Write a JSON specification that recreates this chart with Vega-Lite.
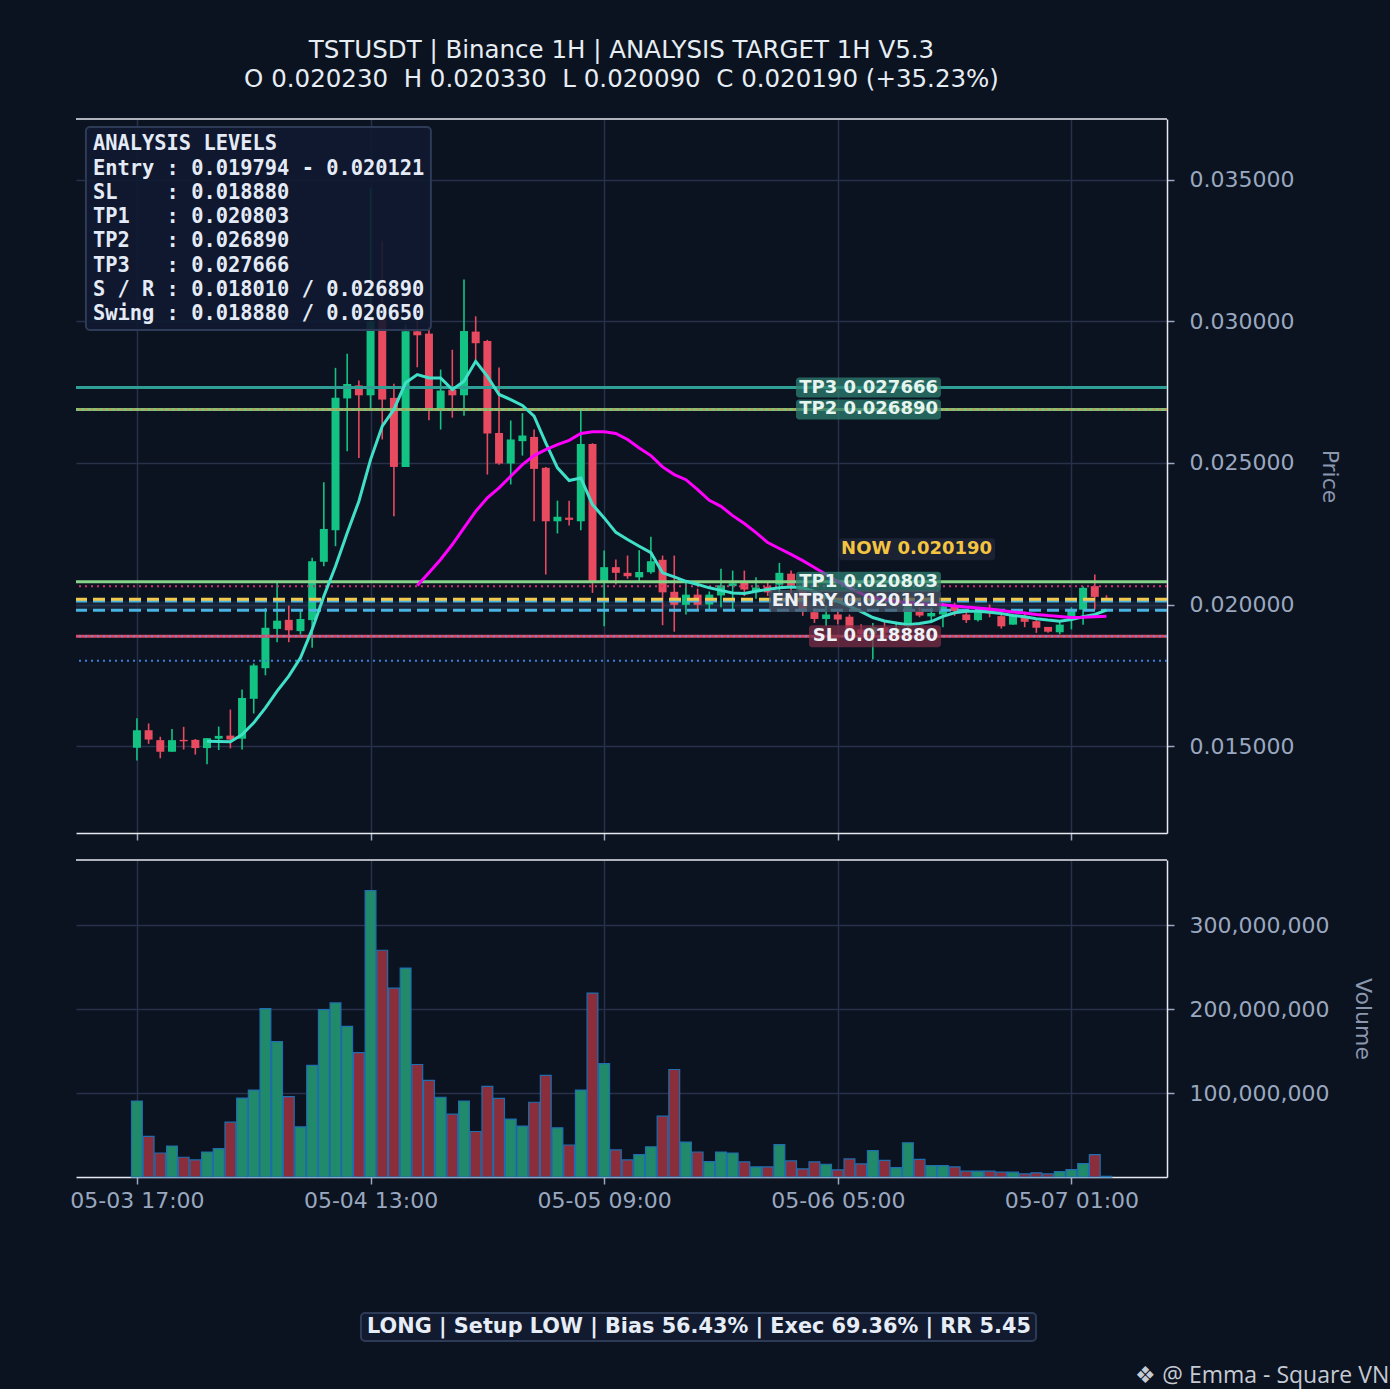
{
  "$schema": "https://vega.github.io/schema/vega-lite/v6.json",
  "background": "#0b1220",
  "padding": {"left": 69, "top": 37, "right": 0, "bottom": 0},
  "spacing": 18,
  "resolve": {"scale": {"x": "independent", "y": "independent", "color": "independent"}},
  "datasets": {
    "candles": [
      {"time":"2025-05-03T17:00:00","open":0.01494,"high":0.01598,"low":0.01449,"close":0.01556,"volume":90500000,"ma7":null,"ma25":null},
      {"time":"2025-05-03T18:00:00","open":0.01556,"high":0.0158,"low":0.01508,"close":0.01523,"volume":48300000,"ma7":null,"ma25":null},
      {"time":"2025-05-03T19:00:00","open":0.01521,"high":0.01533,"low":0.01457,"close":0.0148,"volume":28600000,"ma7":null,"ma25":null},
      {"time":"2025-05-03T20:00:00","open":0.0148,"high":0.0156,"low":0.0148,"close":0.01521,"volume":36900000,"ma7":null,"ma25":null},
      {"time":"2025-05-03T21:00:00","open":0.01522,"high":0.01568,"low":0.01488,"close":0.01517,"volume":23500000,"ma7":null,"ma25":null},
      {"time":"2025-05-03T22:00:00","open":0.01522,"high":0.01525,"low":0.0147,"close":0.01493,"volume":20300000,"ma7":null,"ma25":null},
      {"time":"2025-05-03T23:00:00","open":0.01493,"high":0.01528,"low":0.01436,"close":0.01528,"volume":29800000,"ma7":0.01517,"ma25":null},
      {"time":"2025-05-04T00:00:00","open":0.01526,"high":0.01569,"low":0.01486,"close":0.01536,"volume":33700000,"ma7":0.01516,"ma25":null},
      {"time":"2025-05-04T01:00:00","open":0.01537,"high":0.01629,"low":0.01492,"close":0.01523,"volume":65300000,"ma7":0.01515,"ma25":null},
      {"time":"2025-05-04T02:00:00","open":0.01526,"high":0.017,"low":0.01488,"close":0.0167,"volume":94000000,"ma7":0.01541,"ma25":null},
      {"time":"2025-05-04T03:00:00","open":0.01667,"high":0.01792,"low":0.01615,"close":0.01785,"volume":103500000,"ma7":0.01582,"ma25":null},
      {"time":"2025-05-04T04:00:00","open":0.01775,"high":0.01988,"low":0.0175,"close":0.01918,"volume":200600000,"ma7":0.01635,"ma25":null},
      {"time":"2025-05-04T05:00:00","open":0.01914,"high":0.02082,"low":0.01867,"close":0.01943,"volume":161200000,"ma7":0.01694,"ma25":null},
      {"time":"2025-05-04T06:00:00","open":0.01946,"high":0.01996,"low":0.01867,"close":0.01909,"volume":95600000,"ma7":0.01747,"ma25":null},
      {"time":"2025-05-04T07:00:00","open":0.01906,"high":0.01979,"low":0.01894,"close":0.01949,"volume":59800000,"ma7":0.01812,"ma25":null},
      {"time":"2025-05-04T08:00:00","open":0.01945,"high":0.02165,"low":0.01847,"close":0.02153,"volume":133000000,"ma7":0.01912,"ma25":null},
      {"time":"2025-05-04T09:00:00","open":0.02151,"high":0.02432,"low":0.02135,"close":0.02267,"volume":199400000,"ma7":0.02029,"ma25":null},
      {"time":"2025-05-04T10:00:00","open":0.02262,"high":0.02836,"low":0.02206,"close":0.0273,"volume":207300000,"ma7":0.02135,"ma25":null},
      {"time":"2025-05-04T11:00:00","open":0.02728,"high":0.02886,"low":0.02541,"close":0.02779,"volume":179300000,"ma7":0.02253,"ma25":null},
      {"time":"2025-05-04T12:00:00","open":0.02774,"high":0.02791,"low":0.02518,"close":0.02739,"volume":148200000,"ma7":0.02365,"ma25":null},
      {"time":"2025-05-04T13:00:00","open":0.02739,"high":0.03471,"low":0.02689,"close":0.03,"volume":341000000,"ma7":0.02512,"ma25":null},
      {"time":"2025-05-04T14:00:00","open":0.03006,"high":0.03285,"low":0.02583,"close":0.02724,"volume":270000000,"ma7":0.0263,"ma25":null},
      {"time":"2025-05-04T15:00:00","open":0.0273,"high":0.0278,"low":0.02312,"close":0.02486,"volume":225000000,"ma7":0.02689,"ma25":null},
      {"time":"2025-05-04T16:00:00","open":0.02486,"high":0.0299,"low":0.02486,"close":0.02965,"volume":248800000,"ma7":0.02783,"ma25":null},
      {"time":"2025-05-04T17:00:00","open":0.02965,"high":0.03018,"low":0.02838,"close":0.02951,"volume":134000000,"ma7":0.02812,"ma25":0.02067},
      {"time":"2025-05-04T18:00:00","open":0.02957,"high":0.02983,"low":0.02651,"close":0.02692,"volume":115000000,"ma7":0.028,"ma25":0.02112},
      {"time":"2025-05-04T19:00:00","open":0.02692,"high":0.0283,"low":0.02618,"close":0.02756,"volume":95000000,"ma7":0.028,"ma25":0.02159},
      {"time":"2025-05-04T20:00:00","open":0.02759,"high":0.029,"low":0.0266,"close":0.02739,"volume":74800000,"ma7":0.02759,"ma25":0.02212},
      {"time":"2025-05-04T21:00:00","open":0.02739,"high":0.03148,"low":0.02667,"close":0.02966,"volume":90500000,"ma7":0.02789,"ma25":0.02271},
      {"time":"2025-05-04T22:00:00","open":0.02964,"high":0.03018,"low":0.02865,"close":0.02923,"volume":54200000,"ma7":0.02859,"ma25":0.02329},
      {"time":"2025-05-04T23:00:00","open":0.02931,"high":0.02935,"low":0.02459,"close":0.02604,"volume":108000000,"ma7":0.02806,"ma25":0.02377},
      {"time":"2025-05-05T00:00:00","open":0.02606,"high":0.02837,"low":0.02494,"close":0.02498,"volume":93700000,"ma7":0.02742,"ma25":0.02412},
      {"time":"2025-05-05T01:00:00","open":0.02498,"high":0.0265,"low":0.02424,"close":0.02583,"volume":68900000,"ma7":0.02724,"ma25":0.02453},
      {"time":"2025-05-05T02:00:00","open":0.02577,"high":0.02676,"low":0.02526,"close":0.02597,"volume":60600000,"ma7":0.02703,"ma25":0.02494},
      {"time":"2025-05-05T03:00:00","open":0.02592,"high":0.02618,"low":0.02294,"close":0.02479,"volume":89000000,"ma7":0.02665,"ma25":0.02526},
      {"time":"2025-05-05T04:00:00","open":0.02483,"high":0.02486,"low":0.02106,"close":0.02294,"volume":121000000,"ma7":0.02571,"ma25":0.02547},
      {"time":"2025-05-05T05:00:00","open":0.02294,"high":0.02367,"low":0.02251,"close":0.0231,"volume":58600000,"ma7":0.02483,"ma25":0.02565},
      {"time":"2025-05-05T06:00:00","open":0.02307,"high":0.02367,"low":0.02279,"close":0.02299,"volume":38100000,"ma7":0.02438,"ma25":0.0258},
      {"time":"2025-05-05T07:00:00","open":0.02294,"high":0.02686,"low":0.02262,"close":0.02567,"volume":103500000,"ma7":0.02447,"ma25":0.02604},
      {"time":"2025-05-05T08:00:00","open":0.02567,"high":0.0257,"low":0.02041,"close":0.02082,"volume":219000000,"ma7":0.02353,"ma25":0.0261},
      {"time":"2025-05-05T09:00:00","open":0.02082,"high":0.02191,"low":0.01923,"close":0.02132,"volume":135000000,"ma7":0.02306,"ma25":0.0261},
      {"time":"2025-05-05T10:00:00","open":0.02132,"high":0.02159,"low":0.02071,"close":0.02112,"volume":32200000,"ma7":0.02255,"ma25":0.02604},
      {"time":"2025-05-05T11:00:00","open":0.02112,"high":0.02173,"low":0.02091,"close":0.021,"volume":20300000,"ma7":0.0223,"ma25":0.02583},
      {"time":"2025-05-05T12:00:00","open":0.02096,"high":0.02192,"low":0.02077,"close":0.02115,"volume":26600000,"ma7":0.02206,"ma25":0.02553},
      {"time":"2025-05-05T13:00:00","open":0.02114,"high":0.02239,"low":0.02109,"close":0.02153,"volume":36000000,"ma7":0.02183,"ma25":0.02526},
      {"time":"2025-05-05T14:00:00","open":0.02158,"high":0.02173,"low":0.01927,"close":0.02043,"volume":72400000,"ma7":0.02112,"ma25":0.02486},
      {"time":"2025-05-05T15:00:00","open":0.02045,"high":0.02173,"low":0.01904,"close":0.01999,"volume":128000000,"ma7":0.02098,"ma25":0.02459},
      {"time":"2025-05-05T16:00:00","open":0.01999,"high":0.02077,"low":0.01965,"close":0.02035,"volume":41600000,"ma7":0.02082,"ma25":0.02441},
      {"time":"2025-05-05T17:00:00","open":0.02035,"high":0.02056,"low":0.01982,"close":0.01999,"volume":29800000,"ma7":0.02071,"ma25":0.02406},
      {"time":"2025-05-05T18:00:00","open":0.02,"high":0.02046,"low":0.01982,"close":0.02035,"volume":18300000,"ma7":0.02059,"ma25":0.02368},
      {"time":"2025-05-05T19:00:00","open":0.02032,"high":0.02126,"low":0.0199,"close":0.02068,"volume":29800000,"ma7":0.0205,"ma25":0.02347},
      {"time":"2025-05-05T20:00:00","open":0.02065,"high":0.0212,"low":0.0198,"close":0.02075,"volume":28600000,"ma7":0.02041,"ma25":0.02314},
      {"time":"2025-05-05T21:00:00","open":0.02077,"high":0.0212,"low":0.0203,"close":0.02053,"volume":18000000,"ma7":0.02039,"ma25":0.02286},
      {"time":"2025-05-05T22:00:00","open":0.02047,"high":0.02096,"low":0.0202,"close":0.0206,"volume":12000000,"ma7":0.02047,"ma25":0.02254},
      {"time":"2025-05-05T23:00:00","open":0.02063,"high":0.0208,"low":0.0203,"close":0.02043,"volume":12000000,"ma7":0.02053,"ma25":0.02219},
      {"time":"2025-05-06T00:00:00","open":0.0207,"high":0.02147,"low":0.0204,"close":0.02112,"volume":38500000,"ma7":0.02059,"ma25":0.02198},
      {"time":"2025-05-06T01:00:00","open":0.02109,"high":0.0212,"low":0.0204,"close":0.02067,"volume":19200000,"ma7":0.02062,"ma25":0.02177},
      {"time":"2025-05-06T02:00:00","open":0.02065,"high":0.02075,"low":0.0196,"close":0.01978,"volume":9700000,"ma7":0.02059,"ma25":0.02155},
      {"time":"2025-05-06T03:00:00","open":0.01973,"high":0.01987,"low":0.01935,"close":0.01949,"volume":18000000,"ma7":0.02046,"ma25":0.02131},
      {"time":"2025-05-06T04:00:00","open":0.01949,"high":0.01997,"low":0.01924,"close":0.01965,"volume":15200000,"ma7":0.02025,"ma25":0.02106},
      {"time":"2025-05-06T05:00:00","open":0.01965,"high":0.01985,"low":0.0193,"close":0.01947,"volume":8500000,"ma7":0.02011,"ma25":0.02081},
      {"time":"2025-05-06T06:00:00","open":0.01957,"high":0.01965,"low":0.01905,"close":0.01912,"volume":21500000,"ma7":0.01994,"ma25":0.0206},
      {"time":"2025-05-06T07:00:00","open":0.01912,"high":0.0193,"low":0.0188,"close":0.01895,"volume":15600000,"ma7":0.01975,"ma25":0.02039},
      {"time":"2025-05-06T08:00:00","open":0.01895,"high":0.01935,"low":0.01806,"close":0.0192,"volume":31400000,"ma7":0.01954,"ma25":0.02025},
      {"time":"2025-05-06T09:00:00","open":0.0192,"high":0.0194,"low":0.01885,"close":0.019,"volume":19900000,"ma7":0.01942,"ma25":0.02018},
      {"time":"2025-05-06T10:00:00","open":0.019,"high":0.0194,"low":0.0189,"close":0.01915,"volume":11200000,"ma7":0.01935,"ma25":0.02011},
      {"time":"2025-05-06T11:00:00","open":0.01923,"high":0.02,"low":0.0191,"close":0.01994,"volume":40800000,"ma7":0.01929,"ma25":0.02007},
      {"time":"2025-05-06T12:00:00","open":0.01975,"high":0.0199,"low":0.01955,"close":0.01961,"volume":21100000,"ma7":0.01933,"ma25":0.02004},
      {"time":"2025-05-06T13:00:00","open":0.01958,"high":0.0199,"low":0.01935,"close":0.0197,"volume":13600000,"ma7":0.0194,"ma25":0.02},
      {"time":"2025-05-06T14:00:00","open":0.01965,"high":0.02005,"low":0.0192,"close":0.01994,"volume":13600000,"ma7":0.01958,"ma25":0.01999},
      {"time":"2025-05-06T15:00:00","open":0.01994,"high":0.02006,"low":0.0196,"close":0.01977,"volume":12000000,"ma7":0.01971,"ma25":0.01995},
      {"time":"2025-05-06T16:00:00","open":0.01965,"high":0.0198,"low":0.01935,"close":0.01945,"volume":6900000,"ma7":0.01976,"ma25":0.01991},
      {"time":"2025-05-06T17:00:00","open":0.01945,"high":0.0199,"low":0.0194,"close":0.01973,"volume":6900000,"ma7":0.01976,"ma25":0.01988},
      {"time":"2025-05-06T18:00:00","open":0.01988,"high":0.02,"low":0.01955,"close":0.01971,"volume":6900000,"ma7":0.01973,"ma25":0.01984},
      {"time":"2025-05-06T19:00:00","open":0.01959,"high":0.01965,"low":0.01915,"close":0.01923,"volume":5700000,"ma7":0.01968,"ma25":0.01979},
      {"time":"2025-05-06T20:00:00","open":0.01929,"high":0.01965,"low":0.01929,"close":0.01959,"volume":5700000,"ma7":0.01961,"ma25":0.01974},
      {"time":"2025-05-06T21:00:00","open":0.01959,"high":0.01975,"low":0.0192,"close":0.01939,"volume":3800000,"ma7":0.01957,"ma25":0.0197},
      {"time":"2025-05-06T22:00:00","open":0.01941,"high":0.01945,"low":0.019,"close":0.01918,"volume":5000000,"ma7":0.0195,"ma25":0.01965},
      {"time":"2025-05-06T23:00:00","open":0.01921,"high":0.01921,"low":0.019,"close":0.01904,"volume":3800000,"ma7":0.01945,"ma25":0.01961},
      {"time":"2025-05-07T00:00:00","open":0.01902,"high":0.01945,"low":0.01895,"close":0.01929,"volume":6500000,"ma7":0.01941,"ma25":0.01958},
      {"time":"2025-05-07T01:00:00","open":0.01947,"high":0.0199,"low":0.01912,"close":0.01982,"volume":8900000,"ma7":0.01947,"ma25":0.01954},
      {"time":"2025-05-07T02:00:00","open":0.01982,"high":0.02065,"low":0.01929,"close":0.02059,"volume":16000000,"ma7":0.01957,"ma25":0.01955},
      {"time":"2025-05-07T03:00:00","open":0.02065,"high":0.02106,"low":0.01982,"close":0.02027,"volume":26600000,"ma7":0.01965,"ma25":0.01957},
      {"time":"2025-05-07T04:00:00","open":0.02023,"high":0.02033,"low":0.02009,"close":0.02019,"volume":800000,"ma7":0.0198,"ma25":0.01959}
    ],
    "levels": [
      {"level":"TP3","price":0.027666},
      {"level":"TP2","price":0.02689},
      {"level":"TP1","price":0.020803},
      {"level":"SL","price":0.01888},
      {"level":"EntryLow","price":0.019794},
      {"level":"EntryHigh","price":0.020121},
      {"level":"NOW","price":0.02019},
      {"level":"Resistance","price":0.02689},
      {"level":"SwingHigh","price":0.02065},
      {"level":"SwingLow","price":0.01888},
      {"level":"Support","price":0.01801}
    ],
    "zones": [{"zone":"Entry","low":0.019794,"high":0.020121}],
    "labels": [
      {"label":"TP3 0.027666","price":0.027666,"kind":"TP"},
      {"label":"TP2 0.026890","price":0.02689,"kind":"TP"},
      {"label":"TP1 0.020803","price":0.020803,"kind":"TP"},
      {"label":"ENTRY 0.020121","price":0.020121,"kind":"ENTRY"},
      {"label":"SL 0.018880","price":0.01888,"kind":"SL"},
      {"label":"NOW 0.020190","price":0.02019,"kind":"NOW"}
    ]
  },
  "vconcat": [
    {
      "width": 1091,
      "height": 714,
      "title": {
        "text": ["TSTUSDT | Binance 1H | ANALYSIS TARGET 1H V5.3", "O 0.020230\u00a0 H 0.020330\u00a0 L 0.020090\u00a0 C 0.020190 (+35.23%)"],
        "font": "DejaVu Sans", "fontSize": 24.5, "fontWeight": "normal", "color": "#e6edf3",
        "anchor": "middle", "frame": "group", "lineHeight": 29, "baseline": "bottom", "offset": 2
      },
      "layer": [
        {
          "data": {"name": "zones"},
          "mark": {"type": "rect", "color": "#22324a", "opacity": 0.5},
          "encoding": {
            "y": {"field": "low", "type": "quantitative", "scale": {"domain": [0.01193, 0.03715], "nice": false, "zero": false},
              "axis": {"orient": "right", "values": [0.015, 0.02, 0.025, 0.03, 0.035], "format": ".6f", "title": "Price", "grid": true, "labelPadding": 15, "titlePadding": 24}},
            "y2": {"field": "high"}
          }
        },
        {
          "data": {"name": "candles"},
          "mark": {"type": "rule", "strokeWidth": 1.6},
          "encoding": {
            "x": {"field": "time", "type": "temporal",
              "scale": {"domain": [{"year":2025,"month":5,"date":3,"hours":11,"minutes":47},{"year":2025,"month":5,"date":7,"hours":9,"minutes":11}], "nice": false, "padding": 0},
              "axis": {"values": [{"year":2025,"month":5,"date":3,"hours":17},{"year":2025,"month":5,"date":4,"hours":13},{"year":2025,"month":5,"date":5,"hours":9},{"year":2025,"month":5,"date":6,"hours":5},{"year":2025,"month":5,"date":7,"hours":1}],
                "labels": false, "title": null, "grid": true}},
            "y": {"field": "low", "type": "quantitative"},
            "y2": {"field": "high"},
            "color": {"condition": {"test": "datum.close >= datum.open", "value": "#12c383"}, "value": "#e84a5f"}
          }
        },
        {
          "data": {"name": "candles"},
          "mark": {"type": "bar", "width": 8},
          "encoding": {
            "x": {"field": "time", "type": "temporal"},
            "y": {"field": "open", "type": "quantitative"},
            "y2": {"field": "close"},
            "color": {"condition": {"test": "datum.close >= datum.open", "value": "#12c383"}, "value": "#e84a5f"}
          }
        },
        {
          "data": {"name": "levels"},
          "transform": [{"filter": "indexof(['TP3','TP2','TP1','SL'], datum.level) >= 0"}],
          "mark": {"type": "rule", "strokeWidth": 3},
          "encoding": {
            "y": {"field": "price", "type": "quantitative"},
            "color": {"field": "level", "type": "nominal", "legend": null,
              "scale": {"domain": ["TP3","TP2","TP1","SL","EntryLow","EntryHigh","NOW","Resistance","SwingHigh","SwingLow","Support"],
                "range": ["#2f9e95","#7cc47c","#86d48a","#e5485d","#4ab3df","#4ab3df","#f2c94c","#e8873a","#d6336c","#5b8ee6","#3d7fd9"]}}
          }
        },
        {
          "data": {"name": "levels"},
          "transform": [{"filter": "indexof(['EntryLow','EntryHigh','NOW'], datum.level) >= 0"}],
          "mark": {"type": "rule", "strokeWidth": 3, "strokeDash": [12, 6]},
          "encoding": {
            "y": {"field": "price", "type": "quantitative"},
            "color": {"field": "level", "type": "nominal", "legend": null}
          }
        },
        {
          "data": {"name": "levels"},
          "transform": [{"filter": "indexof(['Resistance','SwingHigh','SwingLow','Support'], datum.level) >= 0"}],
          "mark": {"type": "rule", "strokeWidth": 2, "strokeDash": [2, 4]},
          "encoding": {
            "y": {"field": "price", "type": "quantitative"},
            "color": {"field": "level", "type": "nominal", "legend": null}
          }
        },
        {
          "data": {"name": "candles"},
          "mark": {"type": "line", "color": "#40e0c8", "strokeWidth": 3},
          "encoding": {
            "x": {"field": "time", "type": "temporal"},
            "y": {"field": "ma7", "type": "quantitative"}
          }
        },
        {
          "data": {"name": "candles"},
          "mark": {"type": "line", "color": "#ff00ff", "strokeWidth": 3},
          "encoding": {
            "x": {"field": "time", "type": "temporal"},
            "y": {"field": "ma25", "type": "quantitative"}
          }
        },
        {
          "data": {"name": "labels"},
          "transform": [{"filter": "datum.kind === 'TP'"}],
          "mark": {"type": "rect", "color": "#2f8070", "opacity": 0.75, "cornerRadius": 3, "x2Offset": -145, "yOffset": -10, "y2Offset": 10},
          "encoding": {
            "x": {"datum": {"year":2025,"month":5,"date":6,"hours":13,"minutes":50}, "type": "temporal"},
            "x2": {"datum": {"year":2025,"month":5,"date":6,"hours":13,"minutes":50}},
            "y": {"field": "price", "type": "quantitative"},
            "y2": {"field": "price"}
          }
        },
        {
          "data": {"name": "labels"},
          "transform": [{"filter": "datum.kind === 'ENTRY'"}],
          "mark": {"type": "rect", "color": "#4a5566", "opacity": 0.75, "cornerRadius": 3, "x2Offset": -172, "yOffset": -11, "y2Offset": 11},
          "encoding": {
            "x": {"datum": {"year":2025,"month":5,"date":6,"hours":13,"minutes":50}, "type": "temporal"},
            "x2": {"datum": {"year":2025,"month":5,"date":6,"hours":13,"minutes":50}},
            "y": {"field": "price", "type": "quantitative"},
            "y2": {"field": "price"}
          }
        },
        {
          "data": {"name": "labels"},
          "transform": [{"filter": "datum.kind === 'SL'"}],
          "mark": {"type": "rect", "color": "#7a2e45", "opacity": 0.75, "cornerRadius": 3, "x2Offset": -132, "yOffset": -11, "y2Offset": 11},
          "encoding": {
            "x": {"datum": {"year":2025,"month":5,"date":6,"hours":13,"minutes":50}, "type": "temporal"},
            "x2": {"datum": {"year":2025,"month":5,"date":6,"hours":13,"minutes":50}},
            "y": {"field": "price", "type": "quantitative"},
            "y2": {"field": "price"}
          }
        },
        {
          "data": {"name": "labels"},
          "transform": [{"filter": "datum.kind === 'NOW'"}],
          "mark": {"type": "rect", "color": "#1d2535", "opacity": 0.9, "cornerRadius": 3, "x2Offset": -156, "yOffset": -61, "y2Offset": -39},
          "encoding": {
            "x": {"datum": {"year":2025,"month":5,"date":6,"hours":18,"minutes":28}, "type": "temporal"},
            "x2": {"datum": {"year":2025,"month":5,"date":6,"hours":18,"minutes":28}},
            "y": {"field": "price", "type": "quantitative"},
            "y2": {"field": "price"}
          }
        },
        {
          "data": {"name": "labels"},
          "transform": [{"filter": "datum.kind !== 'NOW'"}],
          "mark": {"type": "text", "align": "right", "baseline": "middle", "dx": -3, "font": "DejaVu Sans", "fontSize": 18, "fontWeight": "bold"},
          "encoding": {
            "x": {"datum": {"year":2025,"month":5,"date":6,"hours":13,"minutes":50}, "type": "temporal"},
            "y": {"field": "price", "type": "quantitative"},
            "text": {"field": "label"},
            "color": {"condition": {"test": "datum.kind === 'TP'", "value": "#e6f5ef"}, "value": "#eef1f6"}
          }
        },
        {
          "data": {"name": "labels"},
          "transform": [{"filter": "datum.kind === 'NOW'"}],
          "mark": {"type": "text", "align": "right", "baseline": "middle", "dx": -3, "dy": -50, "font": "DejaVu Sans", "fontSize": 18, "fontWeight": "bold", "color": "#f5c542"},
          "encoding": {
            "x": {"datum": {"year":2025,"month":5,"date":6,"hours":18,"minutes":28}, "type": "temporal"},
            "y": {"field": "price", "type": "quantitative"},
            "text": {"field": "label"}
          }
        },
        {
          "data": {"values": [{"box": "levels"}]},
          "mark": {"type": "rect", "fill": "#101a30", "fillOpacity": 0.9, "stroke": "#2d3b57", "strokeWidth": 2, "cornerRadius": 4},
          "encoding": {
            "x": {"datum": {"year":2025,"month":5,"date":3,"hours":12,"minutes":38}, "type": "temporal"},
            "x2": {"datum": {"year":2025,"month":5,"date":4,"hours":18,"minutes":10}},
            "y": {"datum": 0.036867, "type": "quantitative"},
            "y2": {"datum": 0.029697}
          }
        },
        {
          "data": {"values": [{"title": "ANALYSIS LEVELS"}]},
          "mark": {"type": "text", "align": "left", "baseline": "top", "font": "DejaVu Sans Mono", "fontSize": 20.4, "fontWeight": "bold", "color": "#e4ebf7", "lineHeight": 24.3,
            "text": ["ANALYSIS LEVELS", "Entry : 0.019794 - 0.020121", "SL\u00a0\u00a0\u00a0\u00a0: 0.018880", "TP1\u00a0\u00a0\u00a0: 0.020803", "TP2\u00a0\u00a0\u00a0: 0.026890", "TP3\u00a0\u00a0\u00a0: 0.027666", "S / R : 0.018010 / 0.026890", "Swing : 0.018880 / 0.020650"]},
          "encoding": {
            "x": {"datum": {"year":2025,"month":5,"date":3,"hours":13,"minutes":14}, "type": "temporal"},
            "y": {"datum": 0.03661, "type": "quantitative"}
          }
        },
        {
          "data": {"values": [{"edge": "top"}]},
          "mark": {"type": "rule", "color": "#e6e9ef", "strokeWidth": 1.5},
          "encoding": {"y": {"datum": 0.03715, "type": "quantitative"}}
        }
      ]
    },
    {
      "width": 1091,
      "height": 317,
      "layer": [
        {
          "data": {"name": "candles"},
          "mark": {"type": "bar", "width": 10.8, "stroke": "#1f6fb0", "strokeWidth": 1.2},
          "encoding": {
            "x": {"field": "time", "type": "temporal",
              "scale": {"domain": [{"year":2025,"month":5,"date":3,"hours":11,"minutes":47},{"year":2025,"month":5,"date":7,"hours":9,"minutes":11}], "nice": false, "padding": 0},
              "axis": {"values": [{"year":2025,"month":5,"date":3,"hours":17},{"year":2025,"month":5,"date":4,"hours":13},{"year":2025,"month":5,"date":5,"hours":9},{"year":2025,"month":5,"date":6,"hours":5},{"year":2025,"month":5,"date":7,"hours":1}],
                "format": "%m-%d %H:%M", "title": null, "grid": true, "labelPadding": 6, "labelFlush": false}},
            "y": {"field": "volume", "type": "quantitative", "scale": {"domain": [0, 377500000], "nice": false},
              "axis": {"orient": "right", "values": [100000000, 200000000, 300000000], "format": ",d", "title": "Volume", "grid": true, "labelPadding": 15, "titlePadding": 22}},
            "color": {"condition": {"test": "datum.close >= datum.open", "value": "#208a6a"}, "value": "#8b2e3c"}
          }
        },
        {
          "data": {"values": [{"edge": "top"}]},
          "mark": {"type": "rule", "color": "#e6e9ef", "strokeWidth": 1.5},
          "encoding": {"y": {"datum": 377500000, "type": "quantitative"}}
        }
      ]
    },
    {
      "width": 1246,
      "height": 160,
      "layer": [
        {
          "data": {"values": [{"box": "footer"}]},
          "mark": {"type": "rect", "fill": "#111a2e", "stroke": "#2d3b57", "strokeWidth": 2, "cornerRadius": 4},
          "encoding": {
            "x": {"datum": 0.2287, "type": "quantitative", "scale": {"domain": [0, 1], "nice": false}, "axis": null},
            "x2": {"datum": 0.7705},
            "y": {"datum": 0.475, "type": "quantitative", "scale": {"domain": [0, 1], "nice": false}, "axis": null},
            "y2": {"datum": 0.3}
          }
        },
        {
          "data": {"values": [{"text": "LONG | Setup LOW | Bias 56.43% | Exec 69.36% | RR 5.45"}]},
          "mark": {"type": "text", "align": "center", "baseline": "middle", "font": "DejaVu Sans", "fontSize": 20.8, "fontWeight": "bold", "color": "#e6edf7"},
          "encoding": {
            "x": {"datum": 0.5, "type": "quantitative"},
            "y": {"datum": 0.3875, "type": "quantitative"},
            "text": {"field": "text"}
          }
        },
        {
          "data": {"values": [{"text": "❖ @ Emma - Square VN"}]},
          "mark": {"type": "text", "align": "right", "baseline": "middle", "font": "Open Sans", "fontSize": 23, "color": "#c5cad3"},
          "encoding": {
            "x": {"datum": 1.054, "type": "quantitative"},
            "y": {"datum": 0.081, "type": "quantitative"},
            "text": {"field": "text"}
          }
        }
      ]
    }
  ],
  "config": {
    "view": {"stroke": null},
    "axis": {
      "labelFont": "DejaVu Sans", "labelFontSize": 22, "labelColor": "#9aa8bf",
      "titleFont": "DejaVu Sans", "titleFontSize": 22, "titleColor": "#8a97ad", "titleFontWeight": "normal",
      "gridColor": "#27324a", "gridWidth": 1.5,
      "domainColor": "#e6e9ef", "domainWidth": 1.5,
      "tickColor": "#9aa8bf", "tickSize": 7, "tickWidth": 1.5
    }
  }
}
